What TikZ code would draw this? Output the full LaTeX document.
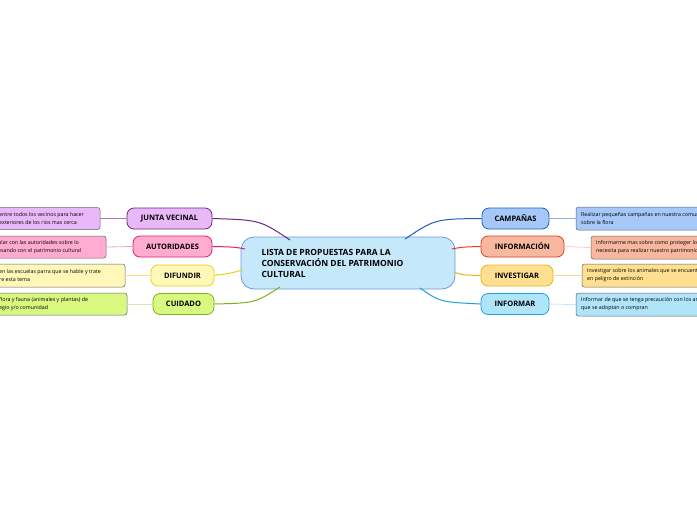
\documentclass[tikz,border=0pt]{standalone}
\usepackage{fontspec}
\setmainfont{Open Sans}
\begin{document}
\begin{tikzpicture}[x=1pt,y=-1pt,
 topic/.style={draw,rounded corners=7pt,line width=0.8pt,font=\fontsize{7.5}{9}\selectfont\bfseries,inner sep=0pt},
 det/.style={draw=gray!80!black,rounded corners=2.5pt,line width=0.5pt,inner sep=0pt},
 dtext/.style={font=\fontsize{5.3}{8}\selectfont,align=left,anchor=west,inner sep=0pt}]
\clip (0,0) rectangle (697,520);
\fill[white] (0,0) rectangle (697,520);
\definecolor{cbl}{HTML}{C5E9FB}
% central
\node[draw=cyan!50!blue!60,fill=cbl,rounded corners=13pt,line width=0.8pt,minimum width=214pt,minimum height=52pt,inner sep=0pt] (c) at (348,263) {};
\node[font=\fontsize{8.5}{11}\selectfont\bfseries,align=left,anchor=west] (ct) at (258,263) {LISTA DE PROPUESTAS PARA LA\\CONSERVACIÓN DEL PATRIMONIO\\CULTURAL};
% helper macro
\newcommand{\topicnode}[8]{% name,x1,x2,yc,fill,border,label
 \node[topic,fill=#5,draw=#6,minimum width=#3pt-#2pt,minimum height=21pt] (#1) at ({(#2+#3)/2},#4) {#7};}
\definecolor{pA}{HTML}{E9B8F8}\definecolor{pAb}{HTML}{6A2A80}
\definecolor{pB}{HTML}{FFACD0}\definecolor{pBb}{HTML}{E0206A}
\definecolor{pC}{HTML}{FFF8B8}\definecolor{pCb}{HTML}{E8D020}
\definecolor{pD}{HTML}{D8F880}\definecolor{pDb}{HTML}{80B020}
\definecolor{pE}{HTML}{A6C8F8}\definecolor{pEb}{HTML}{2060C0}
\definecolor{pF}{HTML}{F8B8A0}\definecolor{pFb}{HTML}{E04020}
\definecolor{pG}{HTML}{FFE090}\definecolor{pGb}{HTML}{F0B020}
\definecolor{pH}{HTML}{B0E4F8}\definecolor{pHb}{HTML}{20A0E0}
\topicnode{jv}{127}{212}{218.5}{pA}{pAb}{JUNTA VECINAL}{}
\topicnode{au}{133}{212}{246.5}{pB}{pBb}{AUTORIDADES}{}
\topicnode{di}{151}{214}{275.5}{pC}{pCb}{DIFUNDIR}{}
\topicnode{cu}{153}{214}{304}{pD}{pDb}{CUIDADO}{}
\topicnode{ca}{482}{549}{218.5}{pE}{pEb}{CAMPAÑAS}{}
\topicnode{in}{481}{564}{246.5}{pF}{pFb}{INFORMACIÓN}{}
\topicnode{iv}{481}{553}{275.5}{pG}{pGb}{INVESTIGAR}{}
\topicnode{im}{481}{549}{304}{pH}{pHb}{INFORMAR}{}
% detail boxes
\node[det,fill=pA,minimum width=120pt,minimum height=22pt] (djv) at (40,218.5) {};
\node[det,fill=pB,minimum width=126pt,minimum height=22pt] (dau) at (43,247) {};
\node[det,fill=pC,minimum width=145pt,minimum height=23pt] (ddi) at (52.5,275.5) {};
\node[det,fill=pD,minimum width=147pt,minimum height=22pt] (dcu) at (53.5,304) {};
\node[det,fill=pE,minimum width=160pt,minimum height=23pt] (dca) at (656,218.5) {};
\node[det,fill=pF,minimum width=160pt,minimum height=23pt] (din) at (671,247.5) {};
\node[det,fill=pG,minimum width=160pt,minimum height=23pt] (div) at (662,275.5) {};
\node[det,fill=pH,minimum width=160pt,minimum height=23pt] (dim) at (656,304.5) {};
\node[dtext] (tjv) at (-1,218.5) {entre todos los vecinos para hacer\\exteriores de los rios mas cerca};
\node[dtext] (tau) at (-2,247) {blar con las autoridades sobre lo\\esando con el patrimonio cultural};
\node[dtext] (tdi) at (-1,275.5) {en las escuelas parra que se hable y trate\\re esta tema};
\node[dtext] (tcu) at (-1,304) {flora y fauna (animales y plantas) de\\egio y/o comunidad};
\node[dtext] (tca) at (581,218.5) {Realizar pequeñas campañas en nuestra comunidad\\sobre la flora};
\node[dtext] (tin) at (596,247.5) {Informarme mas sobre  como proteger lo que se\\necesita para realizar nuestro patrimonio};
\node[dtext] (tiv) at (587,275.5) {Investigar sobre los animales que se encuentran\\en peligro de extinción};
\node[dtext] (tim) at (581,304.5) {Informar de que se tenga precaución con los animales\\que se adoptan o compran};
% detail connectors
\draw[pAb!60,line width=0.5pt] (jv.west) -- (djv.east);
\draw[pBb!40,line width=0.8pt] (au.west) -- (dau.east);
\draw[pCb!60,line width=0.5pt] (di.west) -- (ddi.east);
\draw[pDb!30,line width=0.8pt] (cu.west) -- (dcu.east);
\draw[pEb!50,line width=0.5pt] (ca.east) -- (dca.west);
\draw[pFb!40,line width=0.5pt] (in.east) -- (din.west);
\draw[pGb!50,line width=0.5pt] (iv.east) -- (div.west);
\draw[pHb!40,line width=0.5pt] (im.east) -- (dim.west);
% main connectors
\draw[pAb,line width=1pt] (jv.east) .. controls (260,220) .. (290,240);
\draw[pBb,line width=1pt] (au.east) .. controls (235,247) .. (245,249);
\draw[pCb,line width=1pt] (di.east) .. controls (232,273) .. (242,270);
\draw[pDb,line width=1pt] (cu.east) .. controls (255,303) .. (280,287);
\draw[pEb,line width=1pt] (ca.west) .. controls (435,219) .. (405,239);
\draw[pFb,line width=1pt] (in.west) .. controls (462,247) .. (452,249);
\draw[pGb,line width=1pt] (iv.west) .. controls (462,275) .. (454,272);
\draw[pHb,line width=1pt] (im.west) .. controls (440,302) .. (420,288);
\end{tikzpicture}
\end{document}
